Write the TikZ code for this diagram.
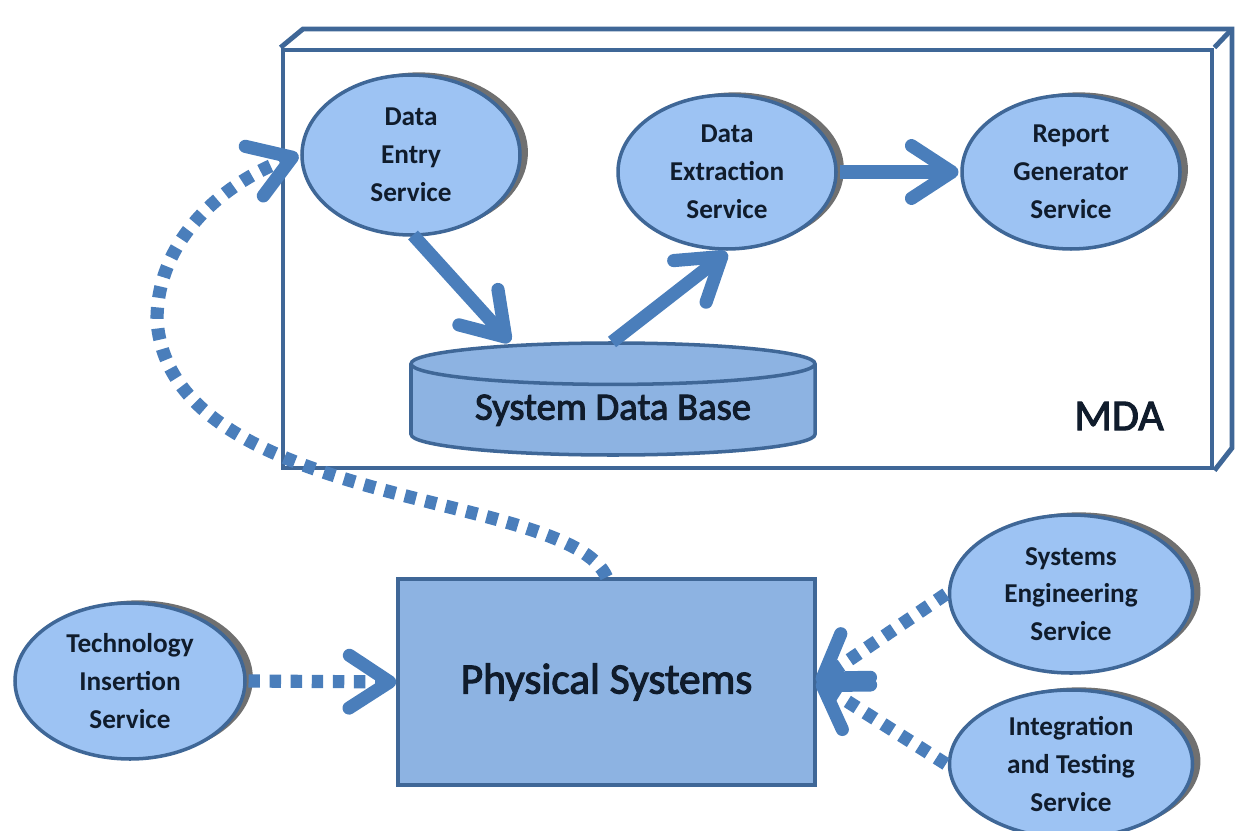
\documentclass[tikz,border=0pt]{standalone}
\usepackage{fontspec}
\setmainfont{Carlito}
\newfontfamily\heavyfont[FakeBold=2.5]{Carlito}
\usetikzlibrary{arrows.meta,shapes.geometric,shadows}
\definecolor{edgeblue}{HTML}{3F6797}
\definecolor{arrowblue}{HTML}{4A7EBB}
\definecolor{ellfill}{HTML}{9DC3F3}
\definecolor{boxfill}{HTML}{8DB3E2}
\definecolor{inkblue}{HTML}{101C2C}

\begin{document}
\begin{tikzpicture}[x=0.02cm, y=-0.02cm,
    service/.style={draw=edgeblue, fill=ellfill, ellipse, line width=2pt, inner sep=0pt, outer sep=2pt,
        text=inkblue, align=center, font=\fontsize{15.5}{21.5}\selectfont\bfseries,
        drop shadow={shadow xshift=4.5pt, shadow yshift=1.5pt, fill=black!62, opacity=0.9}},
    solidarrow/.style={arrowblue, line width=7.5pt, -{Straight Barb[length=23pt, width=30pt, round]}},
    dotarrow/.style={solidarrow, dash pattern=on 6.5pt off 5.5pt}]
    \useasboundingbox (0,0) rectangle (1254,831);

    % outer box
    \node[draw=edgeblue, line width=2.8pt, minimum width=929*0.02cm, minimum height=418*0.02cm, inner sep=0pt] (mda) at (747.5,259) {};
    \coordinate (backleft) at (303,29);
    \coordinate (backright) at (1232,29);
    \coordinate (backbottom) at (1232,448);
    \draw[edgeblue, line width=2.8pt] (mda.north west) -- (backleft) -- (backright) -- (backbottom) -- (mda.south east);
    \draw[edgeblue, line width=2.8pt] (mda.north east) -- (backright);
    \node[font=\fontsize{25}{28}\selectfont\heavyfont, text=inkblue] (mdalabel) at (1119,416) {MDA};

    % services
    \node[service, minimum width=218*0.02cm, minimum height=160*0.02cm] (entry) at (411,155) {Data\\Entry\\Service};
    \node[service, minimum width=218*0.02cm, minimum height=154*0.02cm] (extract) at (727,172) {Data\\Extraction\\Service};
    \node[service, minimum width=218*0.02cm, minimum height=154*0.02cm] (report) at (1071,172) {Report\\Generator\\Service};
    \node[service, minimum width=243*0.02cm, minimum height=158*0.02cm] (syseng) at (1071,594) {Systems\\Engineering\\Service};
    \node[service, minimum width=243*0.02cm, minimum height=148*0.02cm] (integ) at (1071,764) {Integration\\and Testing\\Service};
    \node[service, minimum width=230*0.02cm, minimum height=156*0.02cm] (tech) at (130,681) {Technology\\Insertion\\Service};

    % data base and physical systems
    \node[draw=edgeblue, fill=boxfill, line width=2pt, cylinder, shape border rotate=90, aspect=0.15, cylinder uses custom fill,
        cylinder body fill=boxfill, cylinder end fill=boxfill, minimum width=404*0.02cm, minimum height=112*0.02cm, inner sep=0pt,
        text=inkblue, font=\fontsize{22}{24}\selectfont\heavyfont, anchor=shape center] (db) at (613,399) {System Data Base};
    \node[draw=edgeblue, fill=boxfill, line width=2pt, minimum width=417*0.02cm, minimum height=206*0.02cm, inner sep=0pt,
        text=inkblue, font=\fontsize{24.7}{28}\selectfont\heavyfont] (phys) at (606.5,682) {Physical Systems};

    % connectors
    \coordinate (bend) at (157,320);
    \coordinate (entryout) at (413,235);
    \coordinate (dbin) at (510,342);
    \coordinate (dbout) at (612,342);
    \draw[solidarrow] (entryout) -- (dbin);
    \draw[solidarrow] (dbout) -- (extract.south);
    \draw[solidarrow] (extract.east) -- (report.west);
    \draw[dotarrow] (tech.east) -- (phys.west);
    \draw[dotarrow] (syseng.west) -- (phys.east);
    \draw[dotarrow] (integ.west) -- (phys.east);
    \draw[dotarrow] (phys.north) .. controls (570,490) and (170,510) .. (bend) .. controls (157,235) and (230,180) .. (entry.west);
\end{tikzpicture}
\end{document}
